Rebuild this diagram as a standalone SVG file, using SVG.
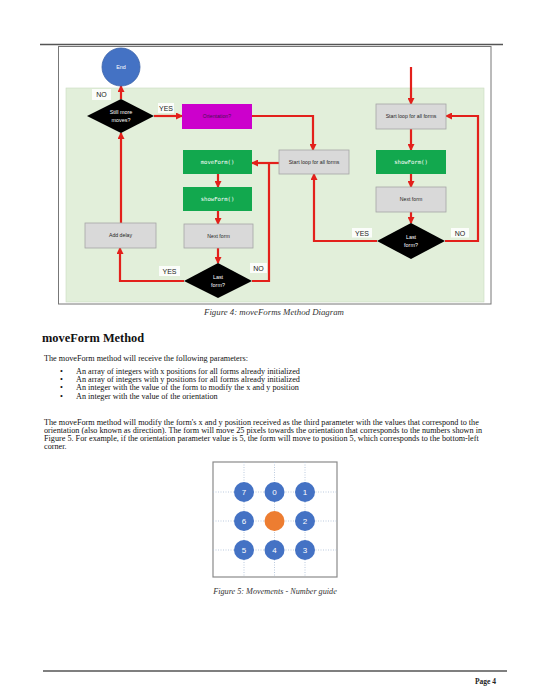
<svg xmlns="http://www.w3.org/2000/svg" width="551" height="700" viewBox="0 0 551 700">
<defs>
<marker id="ah" markerWidth="7" markerHeight="7" refX="6" refY="3.5" orient="auto" markerUnits="userSpaceOnUse">
<path d="M0,0 L7,3.5 L0,7 z" fill="#E3201B"/>
</marker>
<style>
.ln{fill:none;stroke:#E3201B;stroke-width:2.2}
.gbox{fill:#D9D9D9;stroke:#A6A6A6;stroke-width:0.8}
.grn{fill:#12A84E}
.dia{fill:#000}
.bt{font-family:"Liberation Sans","Open Sans",sans-serif;font-size:5.2px;fill:#262626;text-anchor:middle}
.wt{font-family:"Liberation Sans","Open Sans",sans-serif;font-size:5.4px;fill:#fff;text-anchor:middle}
.mono{font-family:"DejaVu Sans Mono","Liberation Mono",monospace;font-size:5.6px;fill:#fff;text-anchor:middle}
.lbl{font-family:"Liberation Sans","Open Sans",sans-serif;font-size:7px;fill:#222;text-anchor:middle}
.lbg{fill:#fff;opacity:0.85}
.body{font-family:"Liberation Serif","Times New Roman",serif;font-size:8.2px;fill:#111}
.cap{font-family:"Liberation Serif","Times New Roman",serif;font-style:italic;fill:#333;text-anchor:middle}
.grid{stroke:#A9BCD6;stroke-width:0.8;stroke-dasharray:1,1.5}
.num{font-family:"Liberation Sans","Open Sans",sans-serif;font-size:8px;fill:#fff;text-anchor:middle}
</style>
</defs>
<rect width="551" height="700" fill="#fff"/>
<line x1="40" y1="44.5" x2="503" y2="44.5" stroke="#555" stroke-width="1.5"/>

<!-- Figure 4 frame -->
<rect x="58.5" y="46.5" width="432.5" height="257.5" fill="#fff" stroke="#777" stroke-width="1"/>
<rect x="66" y="88" width="418" height="214" fill="#E2EFDA" stroke="#C9D9C0" stroke-width="0.6"/>

<g id="connectors">
<line class="ln" x1="121" y1="99" x2="121" y2="86" marker-end="url(#ah)"/>
<line class="ln" x1="154" y1="116" x2="182" y2="116" marker-end="url(#ah)"/>
<polyline class="ln" points="252,116 313,116 313,150" marker-end="url(#ah)"/>
<line class="ln" x1="279" y1="163" x2="252" y2="163" marker-end="url(#ah)"/>
<line class="ln" x1="218" y1="174" x2="218" y2="187" marker-end="url(#ah)"/>
<line class="ln" x1="218" y1="211" x2="218" y2="224" marker-end="url(#ah)"/>
<line class="ln" x1="218" y1="248" x2="218" y2="263" marker-end="url(#ah)"/>
<polyline class="ln" points="252,281 269,281 269,163"/>
<polyline class="ln" points="184,281 120,281 120,248" marker-end="url(#ah)"/>
<line class="ln" x1="121" y1="223" x2="121" y2="133" marker-end="url(#ah)"/>
<line class="ln" x1="411" y1="67" x2="411" y2="104" marker-end="url(#ah)"/>
<line class="ln" x1="411" y1="129" x2="411" y2="150" marker-end="url(#ah)"/>
<line class="ln" x1="411" y1="174" x2="411" y2="187" marker-end="url(#ah)"/>
<line class="ln" x1="411" y1="212" x2="411" y2="223" marker-end="url(#ah)"/>
<polyline class="ln" points="377,241 314,241 314,174" marker-end="url(#ah)"/>
<polyline class="ln" points="445,241 478,241 478,116 446,116" marker-end="url(#ah)"/>
</g>

<g id="labels">
<rect class="lbg" x="92" y="89" width="19" height="11"/>
<text class="lbl" x="101.5" y="97">NO</text>
<rect class="lbg" x="158" y="103" width="16" height="10"/>
<text class="lbl" x="166" y="110.5">YES</text>
<rect class="lbg" x="159" y="266" width="21" height="10"/>
<text class="lbl" x="169.5" y="273.5">YES</text>
<rect class="lbg" x="250" y="263" width="17" height="10"/>
<text class="lbl" x="258.5" y="270.5">NO</text>
<rect class="lbg" x="352" y="228" width="20" height="9.5"/>
<text class="lbl" x="362" y="235.5">YES</text>
<rect class="lbg" x="451" y="228" width="18" height="9.5"/>
<text class="lbl" x="460" y="235.5">NO</text>
</g>

<g id="end">
<circle cx="121" cy="67" r="19" fill="#4472C4" stroke="#3A62A8" stroke-width="0.8"/>
<text class="wt" x="121" y="69">End</text>
</g>
<g id="still-more-moves">
<polygon class="dia" points="121,99 154,116 121,133 87,116"/>
<text class="wt" x="121" y="114">Still more</text>
<text class="wt" x="121" y="121.5">moves?</text>
</g>
<g id="orientation">
<rect x="182" y="104" width="70" height="25" fill="#CC00CC"/>
<text class="bt" x="217" y="118.3" fill="#3a1040" style="fill:#4a1050">Orientation?</text>
</g>
<g id="start-loop-mid">
<rect class="gbox" x="279" y="150" width="70" height="24"/>
<text class="bt" x="314" y="163.8">Start loop for all forms</text>
</g>
<g id="moveform">
<rect class="grn" x="183" y="150" width="69" height="24"/>
<text class="mono" x="217.5" y="163.8">moveForm()</text>
</g>
<g id="showform-left">
<rect class="grn" x="183" y="187" width="69" height="24"/>
<text class="mono" x="217.5" y="200.8">showForm()</text>
</g>
<g id="nextform-left">
<rect class="gbox" x="184" y="224" width="69" height="24"/>
<text class="bt" x="218.5" y="237.8">Next form</text>
</g>
<g id="lastform-left">
<polygon class="dia" points="218,263 252,281 218,298 184,281"/>
<text class="wt" x="218" y="279">Last</text>
<text class="wt" x="218" y="286.5">form?</text>
</g>
<g id="add-delay">
<rect class="gbox" x="85" y="223" width="71" height="25"/>
<text class="bt" x="120.5" y="237.3">Add delay</text>
</g>
<g id="start-loop-right">
<rect class="gbox" x="376" y="104" width="70" height="25"/>
<text class="bt" x="411" y="118.3">Start loop for all forms</text>
</g>
<g id="showform-right">
<rect class="grn" x="376" y="150" width="70" height="24"/>
<text class="mono" x="411" y="163.8">showForm()</text>
</g>
<g id="nextform-right">
<rect class="gbox" x="376" y="187" width="70" height="25"/>
<text class="bt" x="411" y="201.3">Next form</text>
</g>
<g id="lastform-right">
<polygon class="dia" points="411,223 445,241 411,259 377,241"/>
<text class="wt" x="411" y="239">Last</text>
<text class="wt" x="411" y="246.5">form?</text>
</g>

<text class="cap" x="274" y="315" font-size="8.8">Figure 4: moveForms Method Diagram</text>

<text x="42" y="342" font-family="'Liberation Serif','Times New Roman',serif" font-weight="bold" font-size="12.4" fill="#111">moveForm Method</text>
<text class="body" x="44" y="361">The moveForm method will receive the following parameters:</text>
<g class="body">
<text x="60" y="373.5">•</text><text x="76" y="373.5">An array of integers with x positions for all forms already initialized</text>
<text x="60" y="382">•</text><text x="76" y="382">An array of integers with y positions for all forms already initialized</text>
<text x="60" y="390.3">•</text><text x="76" y="390.3">An integer with the value of the form to modify the x and y position</text>
<text x="60" y="398.6">•</text><text x="76" y="398.6">An integer with the value of the orientation</text>
</g>
<g class="body">
<text x="44" y="424.5">The moveForm method will modify the form's x and y position received as the third parameter with the values that correspond to the</text>
<text x="44" y="432.8">orientation (also known as direction). The form will move 25 pixels towards the orientation that corresponds to the numbers shown in</text>
<text x="44" y="441">Figure 5. For example, if the orientation parameter value is 5, the form will move to position 5, which corresponds to the bottom-left</text>
<text x="44" y="449.3">corner.</text>
</g>

<!-- Figure 5 -->
<rect x="213" y="462" width="124" height="115" fill="#fff" stroke="#8A8A8A" stroke-width="1.2"/>
<g>
<line class="grid" x1="244" y1="462" x2="244" y2="577"/>
<line class="grid" x1="274.5" y1="462" x2="274.5" y2="577"/>
<line class="grid" x1="305" y1="462" x2="305" y2="577"/>
<line class="grid" x1="213" y1="492" x2="337" y2="492"/>
<line class="grid" x1="213" y1="521" x2="337" y2="521"/>
<line class="grid" x1="213" y1="550" x2="337" y2="550"/>
</g>
<g id="n7"><circle cx="244" cy="492" r="10" fill="#4472C4"/><text class="num" x="244" y="495">7</text></g>
<g id="n0"><circle cx="274.5" cy="492" r="10" fill="#4472C4"/><text class="num" x="274.5" y="495">0</text></g>
<g id="n1"><circle cx="305" cy="492" r="10" fill="#4472C4"/><text class="num" x="305" y="495">1</text></g>
<g id="n6"><circle cx="244" cy="521" r="10" fill="#4472C4"/><text class="num" x="244" y="524">6</text></g>
<g id="center"><circle cx="274.5" cy="521" r="10" fill="#ED7D31"/></g>
<g id="n2"><circle cx="305" cy="521" r="10" fill="#4472C4"/><text class="num" x="305" y="524">2</text></g>
<g id="n5"><circle cx="244" cy="550" r="10" fill="#4472C4"/><text class="num" x="244" y="553">5</text></g>
<g id="n4"><circle cx="274.5" cy="550" r="10" fill="#4472C4"/><text class="num" x="274.5" y="553">4</text></g>
<g id="n3"><circle cx="305" cy="550" r="10" fill="#4472C4"/><text class="num" x="305" y="553">3</text></g>
<text class="cap" x="275" y="594" font-size="8.2">Figure 5: Movements - Number guide</text>

<line x1="43" y1="671" x2="507" y2="671" stroke="#555" stroke-width="1.3"/>
<text x="496" y="684" text-anchor="end" font-family="'Liberation Serif','Times New Roman',serif" font-weight="bold" font-size="7.5" fill="#222">Page 4</text>
</svg>
